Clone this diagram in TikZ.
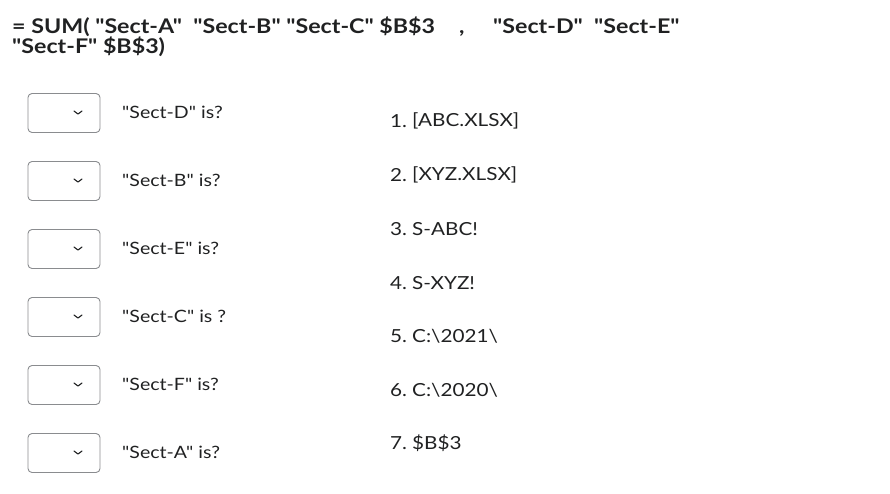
\documentclass[tikz,border=0pt]{standalone}
\usepackage{fontspec}
\setmainfont{Lato}
\newfontfamily\wide{Lato}[FakeStretch=1.15]
\newcommand{\qq}{\symbol{34}}
\definecolor{txt}{HTML}{202122}
\definecolor{bord}{HTML}{8A8C8F}
\begin{document}
\begin{tikzpicture}[x=1pt,y=-1pt,
  ttl/.style={anchor=base west,inner sep=0,font=\wide\bfseries\fontsize{20.2}{20}\selectfont,text=txt},
  lbl/.style={anchor=west,inner sep=0,font=\wide\fontsize{17}{17}\selectfont,text=txt},
  rl/.style={anchor=west,inner sep=0,font=\wide\fontsize{18}{18}\selectfont,text=txt},
  ddbox/.style={draw=bord,line width=0.9pt,rounded corners=4pt,minimum width=72pt,minimum height=39pt,inner sep=0}]
\useasboundingbox (0,0) rectangle (890,493);
\node[ttl] (t1) at (12,33) {= SUM( \qq Sect-A\qq\ \ \qq Sect-B\qq\ \qq Sect-C\qq\ \$B\$3};
\node[ttl] (t2) at (459,33) {,};
\node[ttl] (t3) at (493,33) {\qq Sect-D\qq\ \ \qq Sect-E\qq};
\node[ttl] (t4) at (12,53) {\qq Sect-F\qq\ \$B\$3)};
\foreach \y/\t [count=\i] in {113/Sect-D\qq\ is?,181/Sect-B\qq\ is?,249/Sect-E\qq\ is?,317/Sect-C\qq\ is ?,385/Sect-F\qq\ is?,453/Sect-A\qq\ is?}{
  \node[ddbox] (b\i) at (64,\y) {};
  \draw[txt,line width=1.1pt,line cap=round,line join=round] ([xshift=10pt,yshift=2pt]b\i.center) -- ++(4,3) -- ++(4,-3);
  \node[lbl] (l\i) at (122,\y-1) {\qq\t};
}
\foreach \y/\t [count=\i] in {121/{[ABC.XLSX]},175/{[XYZ.XLSX]},229/{S-ABC!},283/{S-XYZ!},336/{C:\textbackslash 2021\textbackslash},390/{C:\textbackslash 2020\textbackslash},443/{\$B\$3}}{
  \node[rl] (n\i) at (390,\y) {\i.};
  \node[rl] (r\i) at (412,\y) {\t};
}
\end{tikzpicture}
\end{document}
